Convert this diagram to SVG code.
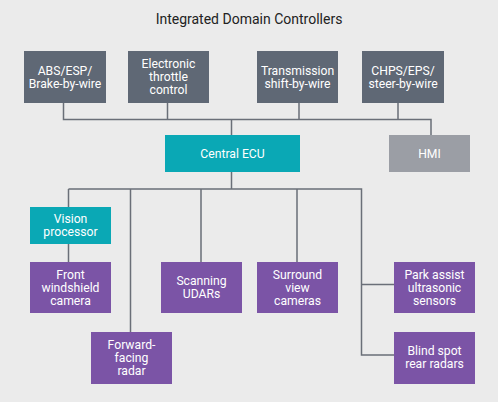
<svg xmlns="http://www.w3.org/2000/svg" width="498" height="402" viewBox="0 0 498 402">
<style>
.bg{fill:#ebebeb}
.dk{fill:#5f6875}
.tl{fill:#0aa8b5}
.gy{fill:#9b9ea5}
.pu{fill:#7b54a6}
.t{font-family:Roboto,"Liberation Sans",sans-serif;font-size:12.2px;fill:#ffffff;text-anchor:middle}
.title{font-family:Roboto,"Liberation Sans",sans-serif;font-size:14px;fill:#222222;text-anchor:middle}
.c{fill:none;stroke:#6a6f78;stroke-width:1.5}
</style>
<rect class="bg" width="498" height="402"/>
<text class="title" x="249" y="24">Integrated Domain Controllers</text>
<g id="connectors">
<path class="c" d="M63.5,103V119.5H431V135M167.5,103V119.5M299,103V119.5M398,103V119.5M231.5,119.5V135"/>
<path class="c" d="M231.5,172V189M68.5,189H361.5V355H394M68.5,189V207M68.5,244V262M130.5,189V332M201,189V262M297,189V262M361.5,284.5H394"/>
</g>
<g id="abs"><rect class="dk" x="24" y="51" width="82" height="52"/><text class="t" x="65" y="74.5">ABS/ESP/<tspan x="65" dy="13">Brake-by-wire</tspan></text></g>
<g id="throttle"><rect class="dk" x="128" y="51" width="81" height="52"/><text class="t" x="168.5" y="68">Electronic<tspan x="168.5" dy="13">throttle</tspan><tspan x="168.5" dy="13">control</tspan></text></g>
<g id="transmission"><rect class="dk" x="257" y="51" width="81" height="52"/><text class="t" x="297.5" y="74.5">Transmission<tspan x="297.5" dy="13">shift-by-wire</tspan></text></g>
<g id="steer"><rect class="dk" x="362" y="51" width="82" height="52"/><text class="t" x="403" y="74.5">CHPS/EPS/<tspan x="403" dy="13">steer-by-wire</tspan></text></g>
<g id="ecu"><rect class="tl" x="165" y="135" width="135" height="37"/><text class="t" x="232.5" y="157.5">Central ECU</text></g>
<g id="hmi"><rect class="gy" x="389" y="135" width="81" height="37"/><text class="t" x="429.5" y="157.5">HMI</text></g>
<g id="vision"><rect class="tl" x="30" y="207" width="81" height="37"/><text class="t" x="70.5" y="223">Vision<tspan x="70.5" dy="13">processor</tspan></text></g>
<g id="front"><rect class="pu" x="30" y="262" width="81" height="51"/><text class="t" x="70.5" y="278.5">Front<tspan x="70.5" dy="13">windshield</tspan><tspan x="70.5" dy="13">camera</tspan></text></g>
<g id="forward"><rect class="pu" x="91" y="332" width="81" height="52"/><text class="t" x="131.5" y="349">Forward-<tspan x="131.5" dy="13">facing</tspan><tspan x="131.5" dy="13">radar</tspan></text></g>
<g id="scanning"><rect class="pu" x="161" y="262" width="81" height="51"/><text class="t" x="201.5" y="285">Scanning<tspan x="201.5" dy="13">UDARs</tspan></text></g>
<g id="surround"><rect class="pu" x="257" y="262" width="81" height="51"/><text class="t" x="297.5" y="278.5">Surround<tspan x="297.5" dy="13">view</tspan><tspan x="297.5" dy="13">cameras</tspan></text></g>
<g id="park"><rect class="pu" x="394" y="262" width="81" height="51"/><text class="t" x="434.5" y="278.5">Park assist<tspan x="434.5" dy="13">ultrasonic</tspan><tspan x="434.5" dy="13">sensors</tspan></text></g>
<g id="blind"><rect class="pu" x="394" y="332" width="81" height="52"/><text class="t" x="434.5" y="355">Blind spot<tspan x="434.5" dy="13">rear radars</tspan></text></g>
</svg>
